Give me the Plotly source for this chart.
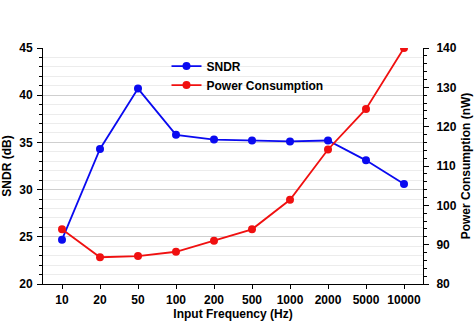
import plotly.graph_objects as go

freq_labels = ["10", "20", "50", "100", "200", "500", "1000", "2000", "5000", "10000"]
sndr_db = [24.7, 34.3, 40.7, 35.8, 35.3, 35.2, 35.1, 35.2, 33.1, 30.6]
power_nw = [93.9, 86.8, 87.1, 88.2, 91.0, 93.9, 101.4, 114.2, 124.5, 140.0]

FONT = "Liberation Sans, Arial, sans-serif"
BLUE = "#0a0af0"
RED = "#f01010"

fig = go.Figure()
fig.add_trace(go.Scatter(
    x=freq_labels, y=sndr_db, name="SNDR", mode="lines+markers",
    line=dict(color=BLUE, width=1.8), marker=dict(color=BLUE, size=8),
    yaxis="y"))
fig.add_trace(go.Scatter(
    x=freq_labels, y=power_nw, name="Power Consumption", mode="lines+markers",
    line=dict(color=RED, width=1.8), marker=dict(color=RED, size=8),
    yaxis="y2"))

tickfont = dict(family=FONT, size=12, color="black", weight="bold")
titlefont = dict(family=FONT, size=12, color="black", weight="bold")

fig.update_layout(
    width=474, height=321,
    margin=dict(l=43, r=51, t=48, b=37, autoexpand=False),
    paper_bgcolor="white", plot_bgcolor="white",
    showlegend=True,
    legend=dict(x=0.325, y=0.985, xanchor="left", yanchor="top",
                bgcolor="rgba(0,0,0,0)", font=dict(family=FONT, size=12, color="black", weight="bold"),
                itemwidth=30, tracegroupgap=0),
    xaxis=dict(type="category", range=[-0.5, 9.5], automargin=True,
               showline=True, linecolor="black", linewidth=1,
               ticks="outside", ticklen=4, tickcolor="black",
               tickfont=tickfont, showgrid=False, zeroline=False,
               ticklabelstandoff=1,
               title=dict(text="Input Frequency (Hz)", font=titlefont, standoff=2)),
    yaxis=dict(range=[20, 45], dtick=5, tick0=20, automargin=True,
               showline=True, linecolor="black", linewidth=1,
               ticks="outside", ticklen=5, tickcolor="black",
               tickfont=tickfont, showgrid=True, gridcolor="#cfcfcf", gridwidth=1,
               zeroline=False, ticklabelstandoff=2,
               minor=dict(dtick=1, ticks="outside", ticklen=3, tickcolor="black",
                          showgrid=True, gridcolor="#ececec", gridwidth=1),
               title=dict(text="SNDR (dB)", font=titlefont, standoff=6)),
    yaxis2=dict(range=[80, 140], dtick=10, tick0=80, overlaying="y", side="right",
                automargin=True,
                showline=True, linecolor="black", linewidth=1,
                ticks="outside", ticklen=5, tickcolor="black",
                tickfont=tickfont, showgrid=False, zeroline=False,
                ticklabelstandoff=5,
                minor=dict(dtick=2, ticks="outside", ticklen=3, tickcolor="black"),
                title=dict(text="Power Consumption (nW)", font=titlefont, standoff=5)),
)

fig.write_html("out.html")
